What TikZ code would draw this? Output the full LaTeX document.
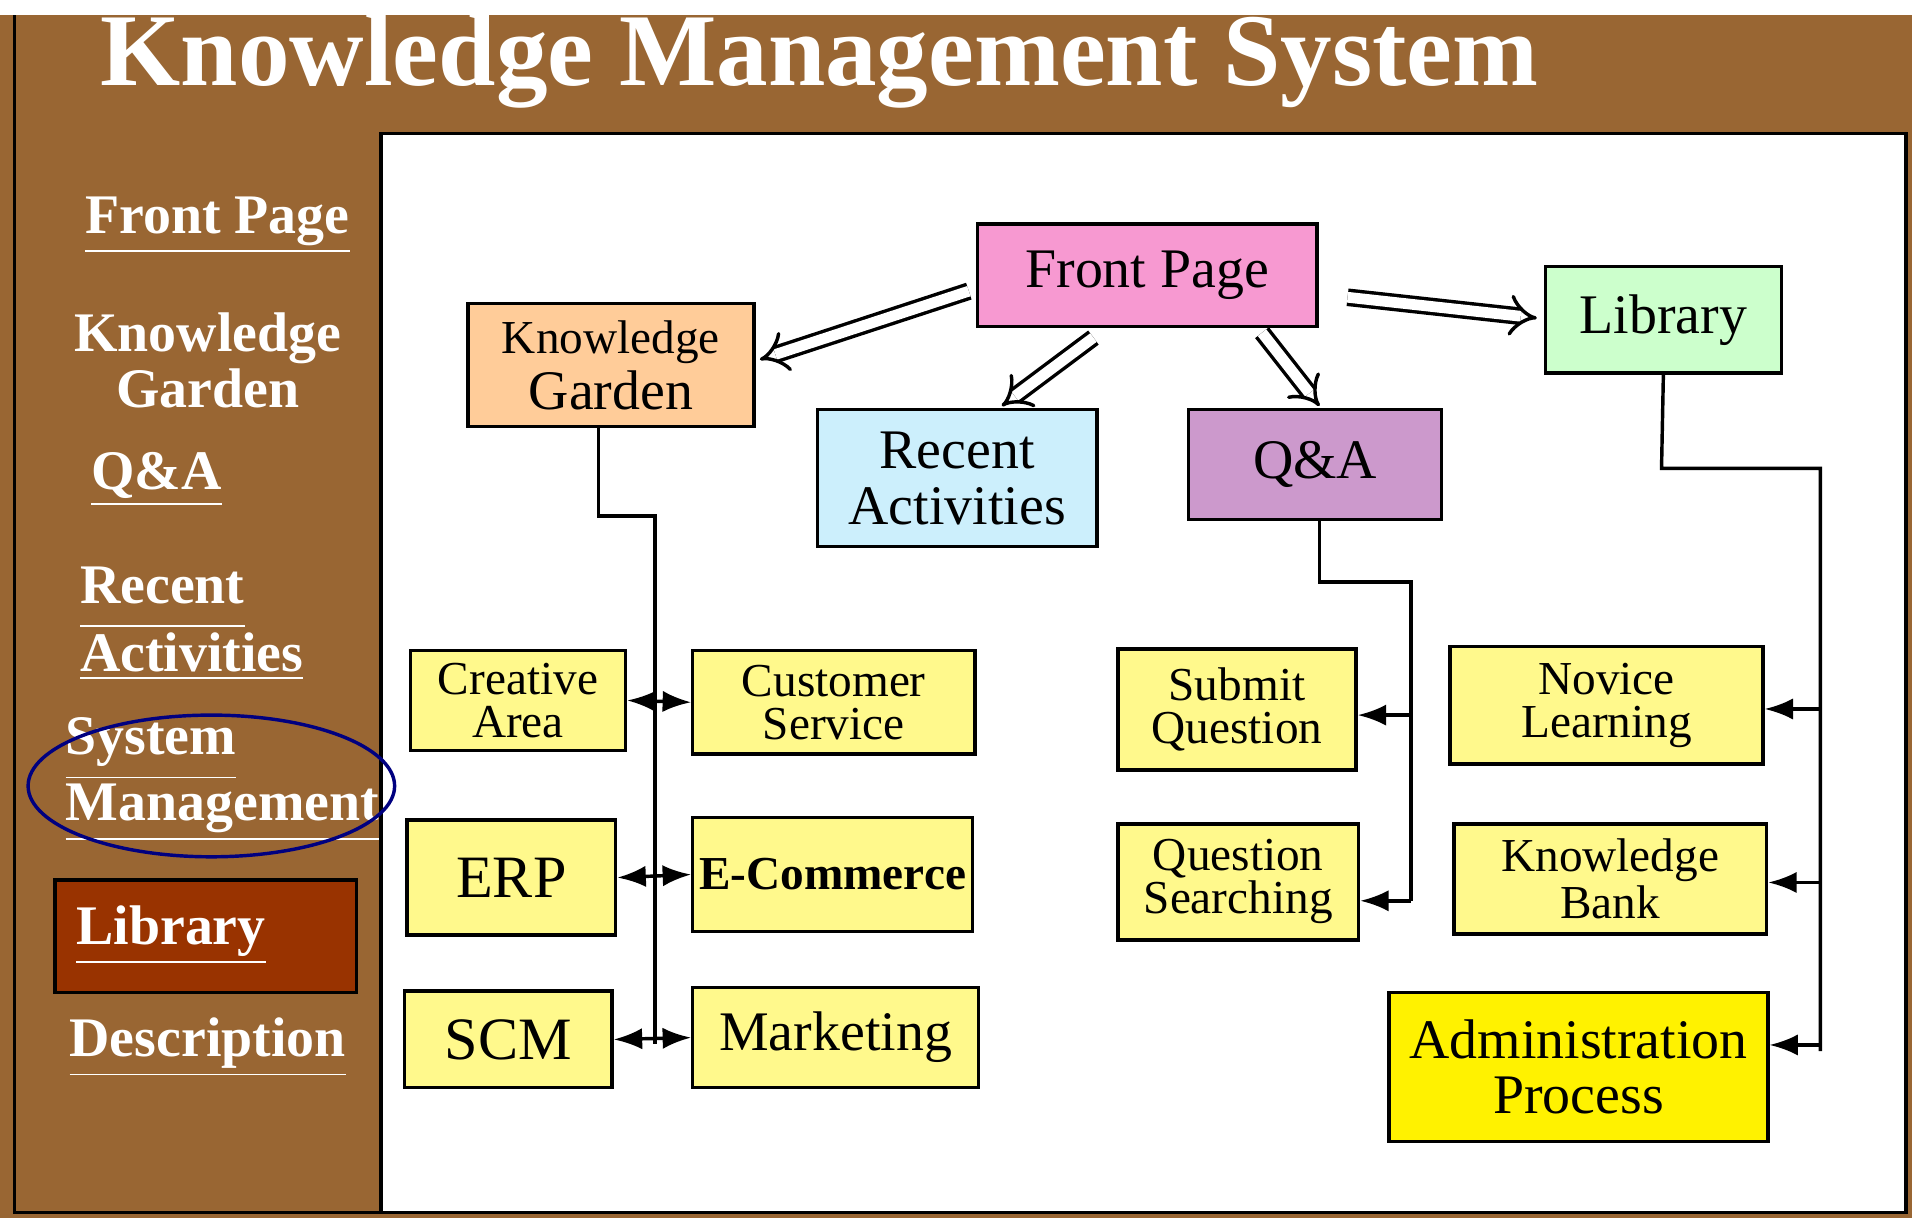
\documentclass[tikz,border=0pt]{standalone}
\usepackage{fontspec}
\setmainfont{Liberation Serif}
\usetikzlibrary{arrows.meta}
\definecolor{brownbg}{HTML}{996633}
\definecolor{libred}{HTML}{993300}
\tikzset{
  box/.style = {draw, thick, align=center, inner sep=0pt, font=\fontsize{13}{13}\selectfont},
  leaf/.style = {box, fill=yellow!45, font=\fontsize{11}{10}\selectfont},
  menu/.style = {text=white, font=\bfseries\fontsize{13}{13}\selectfont, align=left},
  dbl/.style = {double, double distance=2.5pt, thick, -{Implies}},
  link/.style = {thick, {Latex}-{Latex}}
}
\newcommand{\boxat}[7]{%
  \node[#1, fill=#2, minimum width={(#5-#3)*0.01cm}, minimum height={(#6-#4)*0.01cm}] (#7) at ({(#3+#5)/2}, {(#4+#6)/2})}
\begin{document}
\begin{tikzpicture}[x=0.01cm, y=-0.01cm]
  % Background and panel
  \fill[brownbg] (0,0) rectangle (1565,985);
  \fill[white] (312,97) rectangle (1560,980);
  \draw[thick] (12,0) -- (12,980) -- (1560,980) -- (1560,97) -- (312,97) -- (312,980);
  \node[anchor=west, text=white, font=\bfseries\fontsize{24}{24}\selectfont] (title) at (70,38) {Knowledge Management System};

  % Left menu
  \node[menu] (mFront) at (178,172) {\underline{Front Page}};
  \node[menu, align=center] (mGarden) at (170,283) {Knowledge\\Garden};
  \node[menu] (mQA) at (128,380) {\underline{Q\&A}};
  \node[menu] (mRecent) at (157,497) {\underline{Recent\strut}\\\underline{Activities}};
  \node[menu] (mSystem) at (182,625) {\underline{System\strut}\\\underline{Management}};
  \draw[blue!50!black, thick] (173,631) ellipse [x radius=150, y radius=58];
  \draw[thick, fill=libred] (45,708) rectangle (292,800);
  \node[menu] (mLibrary) at (140,753) {\underline{Library}};
  \node[menu] (mDesc) at (170,845) {\underline{Description}};

  % Top level
  \boxat{box}{magenta!40}{800}{171}{1078}{255}{front} {Front Page};
  \boxat{box}{orange!40}{383}{236}{617}{337}{garden} {\fontsize{11}{13}\selectfont Knowledge\\Garden};
  \boxat{box}{cyan!20}{669}{323}{898}{435}{recent} {Recent\\Activities};
  \boxat{box}{violet!40}{973}{323}{1180}{413}{qa} {Q\&A};
  \boxat{box}{green!20}{1265}{206}{1458}{293}{library} {Library};

  \draw[dbl] (793,226) -- (622,282);
  \draw[dbl] (895,264) -- (820,320);
  \draw[dbl] (1033,260) -- (1080,320);
  \draw[dbl] (1103,231) -- (1258,248);

  % Knowledge Garden branch
  \boxat{leaf}{yellow!45}{336}{520}{512}{602}{creative} {Creative\\Area};
  \boxat{leaf}{yellow!45}{567}{520}{798}{605}{customer} {Customer\\Service};
  \boxat{leaf}{yellow!45}{333}{659}{504}{753}{erp} {\fontsize{14}{14}\selectfont ERP};
  \boxat{leaf}{yellow!45}{567}{657}{796}{750}{ecommerce} {\bfseries E-Commerce};
  \boxat{leaf}{yellow!45}{331}{799}{501}{878}{scm} {\fontsize{14}{14}\selectfont SCM};
  \boxat{leaf}{yellow!45}{567}{796}{801}{878}{marketing} {\fontsize{13}{13}\selectfont Marketing};
  \coordinate (g1) at (490,410);
  \coordinate (g2) at (536,410);
  \coordinate (g3) at (536,842);
  \draw[thick] (garden.south -| g1) -- (g1) -- (g2) -- (g3);
  \foreach \l/\r in {creative/customer, erp/ecommerce, scm/marketing}
    \draw[link] (\l.east) -- (\r.west);

  % Q&A branch
  \boxat{leaf}{yellow!45}{915}{519}{1110}{618}{submit} {Submit\\Question};
  \boxat{leaf}{yellow!45}{915}{662}{1112}{757}{search} {Question\\Searching};
  \coordinate (q1) at (1080,464);
  \coordinate (q2) at (1155,464);
  \coordinate (q3) at (1155,725);
  \draw[thick] (qa.south -| q1) -- (q1) -- (q2) -- (q3);
  \draw[thick, -{Latex}] (1155,573) -- (submit.east |- 0,573);
  \draw[thick, -{Latex}] (q3) -- (search.east |- q3);

  % Library branch
  \boxat{leaf}{yellow!45}{1187}{517}{1443}{613}{novice} {Novice\\Learning};
  \boxat{leaf}{yellow!45}{1190}{662}{1446}{752}{bank} {Knowledge\\Bank};
  \boxat{box}{yellow}{1137}{800}{1447}{922}{admin} {Administration\\Process};
  \coordinate (l1) at (1360,371);
  \coordinate (l2) at (1490,371);
  \coordinate (l3) at (1490,848);
  \draw[thick] (library.south) -- (l1) -- (l2) -- (l3);
  \foreach \t/\y in {novice/568, bank/710, admin/843}
    \draw[thick, -{Latex}] (1490,\y) -- (\t.east |- 0,\y);
\end{tikzpicture}
\end{document}
